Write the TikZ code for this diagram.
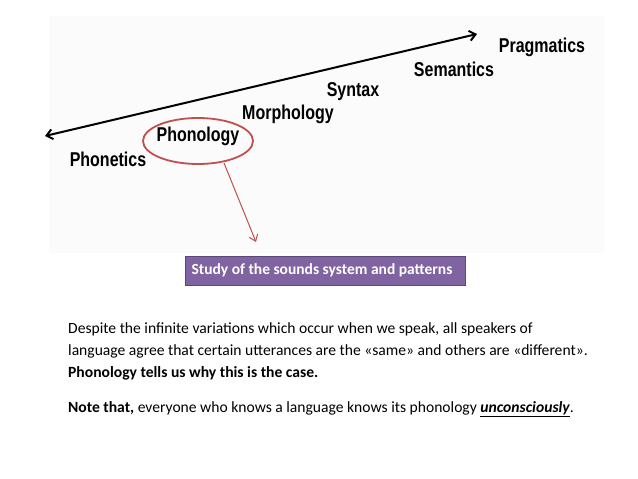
\documentclass[tikz,border=0pt]{standalone}
\usepackage{fontspec}
\setmainfont{Carlito}
\newfontfamily\lab{Liberation Sans}
\usetikzlibrary{arrows.meta,shapes.geometric}
\definecolor{purp}{HTML}{8064A2}
\definecolor{purpd}{HTML}{5C4776}
\definecolor{redc}{HTML}{C0504D}
\tikzset{lbl/.style={font=\lab\bfseries\fontsize{20}{20}\selectfont, xscale=0.8, inner sep=0pt},
 body/.style={anchor=west, font=\fontsize{15.6}{16}\selectfont, inner sep=0pt}}
\begin{document}
\begin{tikzpicture}[x=1pt,y=-1pt]
\useasboundingbox (0,0) rectangle (638,479);
\fill[gray!3] (49,16) rectangle (604,253);
\coordinate (L) at (45,136);
\coordinate (R) at (477,34);
\draw[line width=2pt,{Straight Barb[length=6pt,width=10pt]}-{Straight Barb[length=6pt,width=10pt]}] (L) -- (R);
\node[lbl] (prag) at (542,47) {Pragmatics};
\node[lbl] (sem) at (454,69) {Semantics};
\node[lbl] (syn) at (353,92) {Syntax};
\node[lbl] (mor) at (288,114) {Morphology};
\node[lbl] (pho) at (198,136) {Phonology};
\node[lbl] (phn) at (108,159) {Phonetics};
\node[draw=redc, line width=1.8pt, ellipse, minimum width=110, minimum height=46] (ell) at (198,141) {};
\node[fill=purp, draw=purpd, minimum width=280, minimum height=29, text=white, font=\bfseries\fontsize{15.5}{16}\selectfont, inner sep=0pt] (box) at (325,270.5) {\hspace*{-6pt}Study of the sounds system and patterns};
\draw[redc, line width=1pt, -{Straight Barb[length=6pt,width=9pt]}] (224,163) -- (256,242);
\node[body] (t1) at (68,329) {Despite the infinite variations which occur when we speak, all speakers of};
\node[body] (t2) at (68,351) {language agree that certain utterances are the «same» and others are «different».};
\node[body] (t3) at (68,373) {\bfseries Phonology tells us why this is the case.};
\node[body] (t4) at (68,409) {\textbf{Note that,} everyone who knows a language knows its phonology \textbf{\textit{\underline{unconsciously}}}.};
\end{tikzpicture}
\end{document}
